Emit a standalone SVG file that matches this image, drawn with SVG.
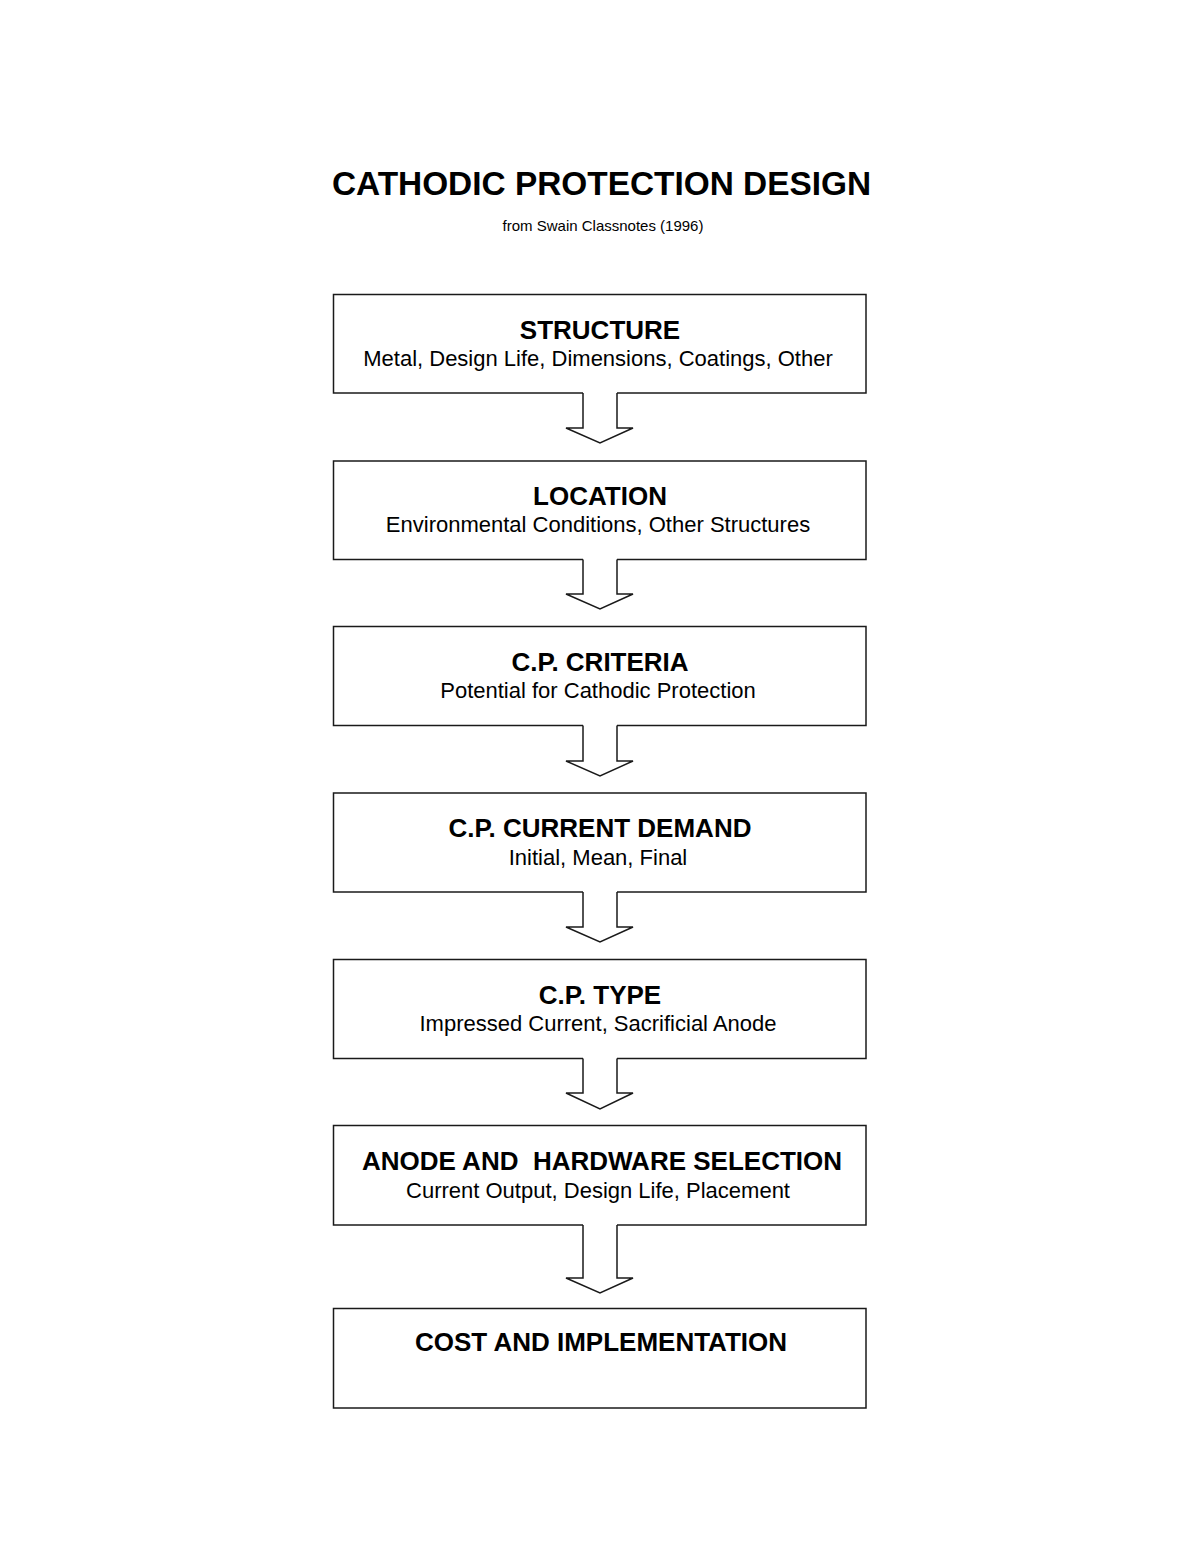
<svg xmlns="http://www.w3.org/2000/svg" width="1200" height="1553" viewBox="0 0 1200 1553">
<defs>
<style>
.box{fill:#fff;stroke:#1a1a1a;stroke-width:1.5}
.h{font-family:"Liberation Sans",Arial,sans-serif;font-weight:bold;font-size:26px;fill:#000;text-anchor:middle}
.s{font-family:"Liberation Sans",Arial,sans-serif;font-size:22px;fill:#000;text-anchor:middle}
.cover{fill:#fff;stroke:none}
.arr{fill:none;stroke:#1a1a1a;stroke-width:1.5;stroke-linejoin:miter}
</style>
</defs>
<rect width="1200" height="1553" fill="#fff"/>
<text x="601.5" y="195" font-family="Liberation Sans, Arial, sans-serif" font-weight="bold" font-size="33.4" text-anchor="middle" fill="#000">CATHODIC PROTECTION DESIGN</text>
<text x="603" y="231" font-family="Liberation Sans, Arial, sans-serif" font-size="15" text-anchor="middle" fill="#000">from Swain Classnotes (1996)</text>

<g id="structure">
<rect class="box" x="333.5" y="294.5" width="532.5" height="98.5"/>
<text class="h" x="600" y="339">STRUCTURE</text>
<text class="s" x="598" y="366">Metal, Design Life, Dimensions, Coatings, Other</text>
</g>
<g id="location">
<rect class="box" x="333.5" y="461" width="532.5" height="98.5"/>
<text class="h" x="600" y="505">LOCATION</text>
<text class="s" x="598" y="532">Environmental Conditions, Other Structures</text>
</g>
<g id="cp-criteria">
<rect class="box" x="333.5" y="626.5" width="532.5" height="99"/>
<text class="h" x="600" y="671">C.P. CRITERIA</text>
<text class="s" x="598" y="698">Potential for Cathodic Protection</text>
</g>
<g id="cp-current-demand">
<rect class="box" x="333.5" y="793" width="532.5" height="99"/>
<text class="h" x="600" y="837">C.P. CURRENT DEMAND</text>
<text class="s" x="598" y="865">Initial, Mean, Final</text>
</g>
<g id="cp-type">
<rect class="box" x="333.5" y="959.5" width="532.5" height="99"/>
<text class="h" x="600" y="1004">C.P. TYPE</text>
<text class="s" x="598" y="1031">Impressed Current, Sacrificial Anode</text>
</g>
<g id="anode-hardware">
<rect class="box" x="333.5" y="1125.5" width="532.5" height="99.5"/>
<text class="h" x="602" y="1170" xml:space="preserve" style="white-space:pre">ANODE AND  HARDWARE SELECTION</text>
<text class="s" x="598" y="1198">Current Output, Design Life, Placement</text>
</g>
<g id="cost-implementation">
<rect class="box" x="333.5" y="1308.5" width="532.5" height="99.5"/>
<text class="h" x="601" y="1351">COST AND IMPLEMENTATION</text>
</g>

<g id="connectors">
<polygon class="cover" points="583,391 617,391 617,428 633,428 600,443 566,428 583,428"/>
<polyline class="arr" points="583,393 583,428 566,428 600,443 633,428 617,428 617,393"/>
<polygon class="cover" points="583,558 617,558 617,594 633,594 600,609 566,594 583,594"/>
<polyline class="arr" points="583,559.5 583,594 566,594 600,609 633,594 617,594 617,559.5"/>
<polygon class="cover" points="583,724 617,724 617,761 633,761 600,776 566,761 583,761"/>
<polyline class="arr" points="583,725.5 583,761 566,761 600,776 633,761 617,761 617,725.5"/>
<polygon class="cover" points="583,890 617,890 617,927 633,927 600,942 566,927 583,927"/>
<polyline class="arr" points="583,892 583,927 566,927 600,942 633,927 617,927 617,892"/>
<polygon class="cover" points="583,1057 617,1057 617,1093 633,1093 600,1109 566,1093 583,1093"/>
<polyline class="arr" points="583,1058.5 583,1093 566,1093 600,1109 633,1093 617,1093 617,1058.5"/>
<polygon class="cover" points="583,1223 617,1223 617,1278 633,1278 600,1293 566,1278 583,1278"/>
<polyline class="arr" points="583,1225 583,1278 566,1278 600,1293 633,1278 617,1278 617,1225"/>
</g>
</svg>
